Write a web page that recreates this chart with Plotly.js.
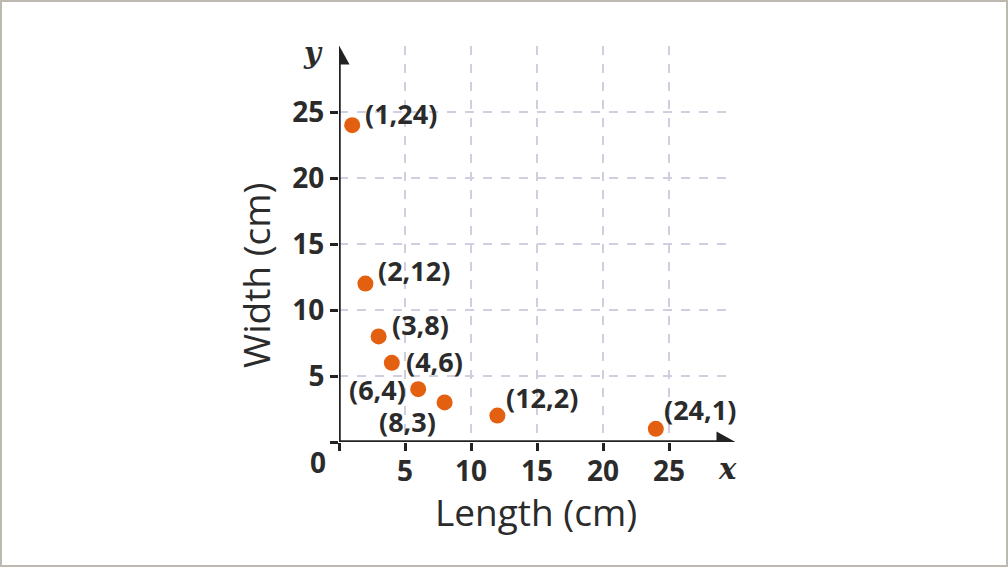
<!DOCTYPE html>
<html>
<head>
<meta charset="utf-8">
<script src="https://cdn.plot.ly/plotly-3.0.1.min.js"></script>
<style>
  html, body { margin: 0; padding: 0; background: #fff; }
  #wrap { position: relative; width: 1008px; height: 567px; }
  #chart { width: 1008px; height: 567px; }
  #frame { position: absolute; left: 0; top: 0; width: 1008px; height: 567px;
           box-sizing: border-box; border: 2px solid #bdb9b0; pointer-events: none; }
</style>
</head>
<body>
<div id="wrap"><div id="chart"></div><div id="frame"></div></div>
<script>
// Data
const lengths = [1, 2, 3, 4, 6, 8, 12, 24];
const widths  = [24, 12, 8, 6, 4, 3, 2, 1];
const tickVals = [0, 5, 10, 15, 20, 25];
const tickText = ['', '5', '10', '15', '20', '25'];
const xTitle = 'Length (cm)';
const yTitle = 'Width (cm)';

// Label placement (style only)
const labelAnchor = ['left', 'left', 'left', 'left', 'right', 'right', 'left', 'left'];
const labelDX = [11, 11, 11, 12, -10, -7, 7, 6];
const labelDY = [12, 13, 12, 1, 0, -19, 18, 19];

const ink = '#2b2b2b';
const orange = '#e2600f';
const gridCol = '#cfcfe0';
const M = { l: 339, r: 273, t: 46, b: 125 };
const pw = 1008 - M.l - M.r, ph = 567 - M.t - M.b;
const px = v => (v - M.l) / pw;
const py = v => (567 - M.b - v) / ph;

const annotations = lengths.map((x, i) => ({
  x: x, y: widths[i], xref: 'x', yref: 'y',
  text: '(' + x + ',' + widths[i] + ')',
  showarrow: false, xanchor: labelAnchor[i], yanchor: 'middle',
  xshift: labelDX[i], yshift: labelDY[i],
  font: { family: 'Open Sans', size: 27, color: ink, weight: 700 }
}));

annotations.push(
  { x: px(318), y: py(462), xref: 'paper', yref: 'paper', text: '0', showarrow: false,
    xanchor: 'center', yanchor: 'middle',
    font: { family: 'Open Sans', size: 28, color: ink, weight: 700 } },
  { x: px(727), y: py(469), xref: 'paper', yref: 'paper', text: '<i>x</i>', showarrow: false,
    xanchor: 'center', yanchor: 'middle',
    font: { family: 'DejaVu Serif', size: 29, color: ink, weight: 700 } },
  { x: px(313), y: py(53), xref: 'paper', yref: 'paper', text: '<i>y</i>', showarrow: false,
    xanchor: 'center', yanchor: 'middle',
    font: { family: 'DejaVu Serif', size: 29, color: ink, weight: 700 } },
  { x: px(536), y: py(512), xref: 'paper', yref: 'paper',
    text: xTitle, showarrow: false, xanchor: 'center', yanchor: 'middle',
    font: { family: 'Open Sans', size: 37, color: ink } },
  { x: px(255), y: py(276), xref: 'paper', yref: 'paper',
    text: yTitle, showarrow: false, xanchor: 'center', yanchor: 'middle', textangle: -90,
    font: { family: 'Open Sans', size: 37, color: ink } }
);

const axisCommon = {
  range: [0, 30], fixedrange: true, zeroline: false, showline: false,
  tickvals: tickVals, ticktext: tickText,
  ticks: 'outside', ticklen: 8, tickwidth: 3, tickcolor: '#222',
  showgrid: true, gridcolor: gridCol, gridwidth: 1.5, griddash: 'dash',
  tickfont: { family: 'Open Sans', size: 28, color: ink, weight: 700 }
};

const layout = {
  width: 1008, height: 567,
  margin: { l: M.l, r: M.r, t: M.t, b: M.b, pad: 0 },
  paper_bgcolor: '#fff', plot_bgcolor: '#fff',
  showlegend: false,
  xaxis: Object.assign({}, axisCommon, { ticklabelstandoff: -4 }),
  yaxis: Object.assign({}, axisCommon, { ticklabelstandoff: 0 }),
  shapes: [
    { type: 'line', xref: 'x', yref: 'y', x0: 0, y0: 0, x1: 29, y1: 0,
      line: { color: '#222', width: 3.5 }, layer: 'above' },
    { type: 'line', xref: 'x', yref: 'y', x0: 0, y0: 0, x1: 0, y1: 29,
      line: { color: '#222', width: 3.5 }, layer: 'above' },
    { type: 'path', xref: 'x', yref: 'y', path: 'M 28.6,-0.8 L 30.05,0 L 28.6,0.8 Z',
      fillcolor: '#222', line: { width: 0 }, layer: 'above' },
    { type: 'path', xref: 'x', yref: 'y', path: 'M -0.8,28.6 L 0,30.05 L 0.8,28.6 Z',
      fillcolor: '#222', line: { width: 0 }, layer: 'above' }
  ],
  annotations: annotations
};

const trace = {
  type: 'scatter', mode: 'markers', x: lengths, y: widths,
  marker: { color: orange, size: 16 }, cliponaxis: false, hoverinfo: 'skip'
};

Plotly.newPlot('chart', [trace], layout, { displayModeBar: false, staticPlot: true });
</script>
</body>
</html>
